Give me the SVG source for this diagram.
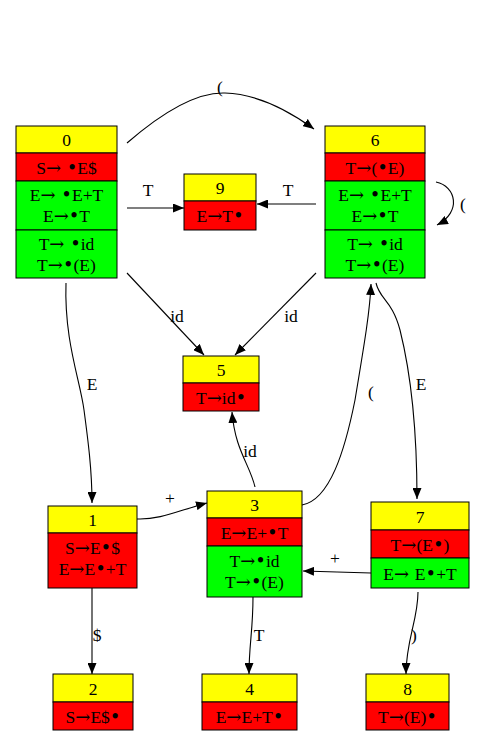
<svg xmlns="http://www.w3.org/2000/svg" width="481" height="741" viewBox="0 0 481 741">
<style>
.t{font-family:"Liberation Serif","Times New Roman",serif;font-size:17.5px;fill:#000;text-anchor:middle}
.a{font-family:"DejaVu Serif",serif;font-size:18px}
.h{fill:#ffff00;stroke:#000;stroke-width:1}
.r{fill:#ff0000;stroke:#000;stroke-width:1}
.g{fill:#00ff00;stroke:#000;stroke-width:1}
.e{fill:none;stroke:#000;stroke-width:1.1}
</style>
<defs>
<marker id="ah" markerWidth="11" markerHeight="9" refX="11" refY="4.5" orient="auto" markerUnits="userSpaceOnUse">
<path d="M0,0 L11,4.5 L0,9 z" fill="#000"/>
</marker>
</defs>
<rect width="481" height="741" fill="#fff"/>
<g class="t">
<g id="edges">
<path class="e" marker-end="url(#ah)" d="M127,143 C165,110 198,92 225,93 C255,94 285,108 314,129"/>
<text x="220" y="93">(</text>
<path class="e" marker-end="url(#ah)" d="M127,208 L184,208"/>
<text x="148" y="196">T</text>
<path class="e" marker-end="url(#ah)" d="M316,204 L257,204"/>
<text x="288" y="196">T</text>
<path class="e" marker-end="url(#ah)" d="M436,182 C456,186 462,212 437,225"/>
<text x="463" y="210">(</text>
<path class="e" marker-end="url(#ah)" d="M127,273 L204,355"/>
<text x="177" y="322">id</text>
<path class="e" marker-end="url(#ah)" d="M316,273 L235,355"/>
<text x="291" y="322">id</text>
<path class="e" marker-end="url(#ah)" d="M66,283 C64,340 80,380 84,410 C88,440 92,470 92,503"/>
<text x="92" y="390">E</text>
<path class="e" marker-end="url(#ah)" d="M376,283 C380,300 392,300 400,330 C410,370 417,420 417,499"/>
<text x="421" y="390">E</text>
<path class="e" marker-end="url(#ah)" d="M302,505 C330,500 345,450 355,400 C365,340 370,310 371,284"/>
<text x="371" y="398">(</text>
<path class="e" marker-end="url(#ah)" d="M137,519 C160,520 180,510 207,503"/>
<text x="170" y="504">+</text>
<path class="e" marker-end="url(#ah)" d="M255,487 C250,465 235,450 232,412"/>
<text x="250" y="457">id</text>
<path class="e" marker-end="url(#ah)" d="M371,573 L303,571"/>
<text x="335" y="564">+</text>
<path class="e" marker-end="url(#ah)" d="M92,588 L92,674"/>
<text x="97" y="641">$</text>
<path class="e" marker-end="url(#ah)" d="M253,597 C253,630 249,645 249,674"/>
<text x="259" y="641">T</text>
<path class="e" marker-end="url(#ah)" d="M418,592 C418,620 406,640 406,674"/>
<text x="414" y="641">)</text>
</g>
<g id="n0">
<rect class="h" x="16" y="126" width="101" height="27"/><text x="66.5" y="146">0</text>
<rect class="r" x="16" y="153" width="101" height="28"/><text x="66.5" y="174">S<tspan class="a">→ •</tspan>E$</text>
<rect class="g" x="16" y="181" width="101" height="49"/><text x="66.5" y="201">E<tspan class="a">→ •</tspan>E+T</text><text x="66.5" y="222">E<tspan class="a">→•</tspan>T</text>
<rect class="g" x="16" y="230" width="101" height="48"/><text x="66.5" y="250">T<tspan class="a">→ •</tspan>id</text><text x="66.5" y="271">T<tspan class="a">→•</tspan>(E)</text>
</g>
<g id="n6">
<rect class="h" x="325" y="126" width="100" height="27"/><text x="375" y="146">6</text>
<rect class="r" x="325" y="153" width="100" height="28"/><text x="375" y="174">T<tspan class="a">→</tspan>(<tspan class="a">•</tspan>E)</text>
<rect class="g" x="325" y="181" width="100" height="49"/><text x="375" y="201">E<tspan class="a">→ •</tspan>E+T</text><text x="375" y="222">E<tspan class="a">→•</tspan>T</text>
<rect class="g" x="325" y="230" width="100" height="48"/><text x="375" y="250">T<tspan class="a">→ •</tspan>id</text><text x="375" y="271">T<tspan class="a">→•</tspan>(E)</text>
</g>
<g id="n9">
<rect class="h" x="184" y="174" width="72" height="27"/><text x="220" y="194">9</text>
<rect class="r" x="184" y="201" width="72" height="29"/><text x="220" y="222">E<tspan class="a">→</tspan>T<tspan class="a">•</tspan></text>
</g>
<g id="n5">
<rect class="h" x="183" y="356" width="76" height="27"/><text x="221" y="376">5</text>
<rect class="r" x="183" y="383" width="76" height="28"/><text x="221" y="404">T<tspan class="a">→</tspan>id<tspan class="a">•</tspan></text>
</g>
<g id="n1">
<rect class="h" x="48" y="506" width="89" height="27"/><text x="92.5" y="526">1</text>
<rect class="r" x="48" y="533" width="89" height="55"/><text x="92.5" y="554">S<tspan class="a">→</tspan>E<tspan class="a">•</tspan>$</text><text x="92.5" y="575">E<tspan class="a">→</tspan>E<tspan class="a">•</tspan>+T</text>
</g>
<g id="n3">
<rect class="h" x="207" y="491" width="95" height="27"/><text x="254.5" y="511">3</text>
<rect class="r" x="207" y="518" width="95" height="28"/><text x="254.5" y="539">E<tspan class="a">→</tspan>E+<tspan class="a">•</tspan>T</text>
<rect class="g" x="207" y="546" width="95" height="51"/><text x="254.5" y="567">T<tspan class="a">→•</tspan>id</text><text x="254.5" y="588">T<tspan class="a">→•</tspan>(E)</text>
</g>
<g id="n7">
<rect class="h" x="371" y="502" width="98" height="28"/><text x="420" y="523">7</text>
<rect class="r" x="371" y="530" width="98" height="28"/><text x="420" y="551">T<tspan class="a">→</tspan>(E<tspan class="a">•</tspan>)</text>
<rect class="g" x="371" y="558" width="98" height="30"/><text x="420" y="580">E<tspan class="a">→ </tspan>E<tspan class="a">•</tspan>+T</text>
</g>
<g id="n2">
<rect class="h" x="53" y="674" width="80" height="28"/><text x="93" y="695">2</text>
<rect class="r" x="53" y="702" width="80" height="28"/><text x="93" y="723">S<tspan class="a">→</tspan>E$<tspan class="a">•</tspan></text>
</g>
<g id="n4">
<rect class="h" x="202" y="674" width="95" height="28"/><text x="249.5" y="695">4</text>
<rect class="r" x="202" y="702" width="95" height="28"/><text x="249.5" y="723">E<tspan class="a">→</tspan>E+T<tspan class="a">•</tspan></text>
</g>
<g id="n8">
<rect class="h" x="366" y="674" width="83" height="28"/><text x="407.5" y="695">8</text>
<rect class="r" x="366" y="702" width="83" height="28"/><text x="407.5" y="723">T<tspan class="a">→</tspan>(E)<tspan class="a">•</tspan></text>
</g>
</g>
</svg>
